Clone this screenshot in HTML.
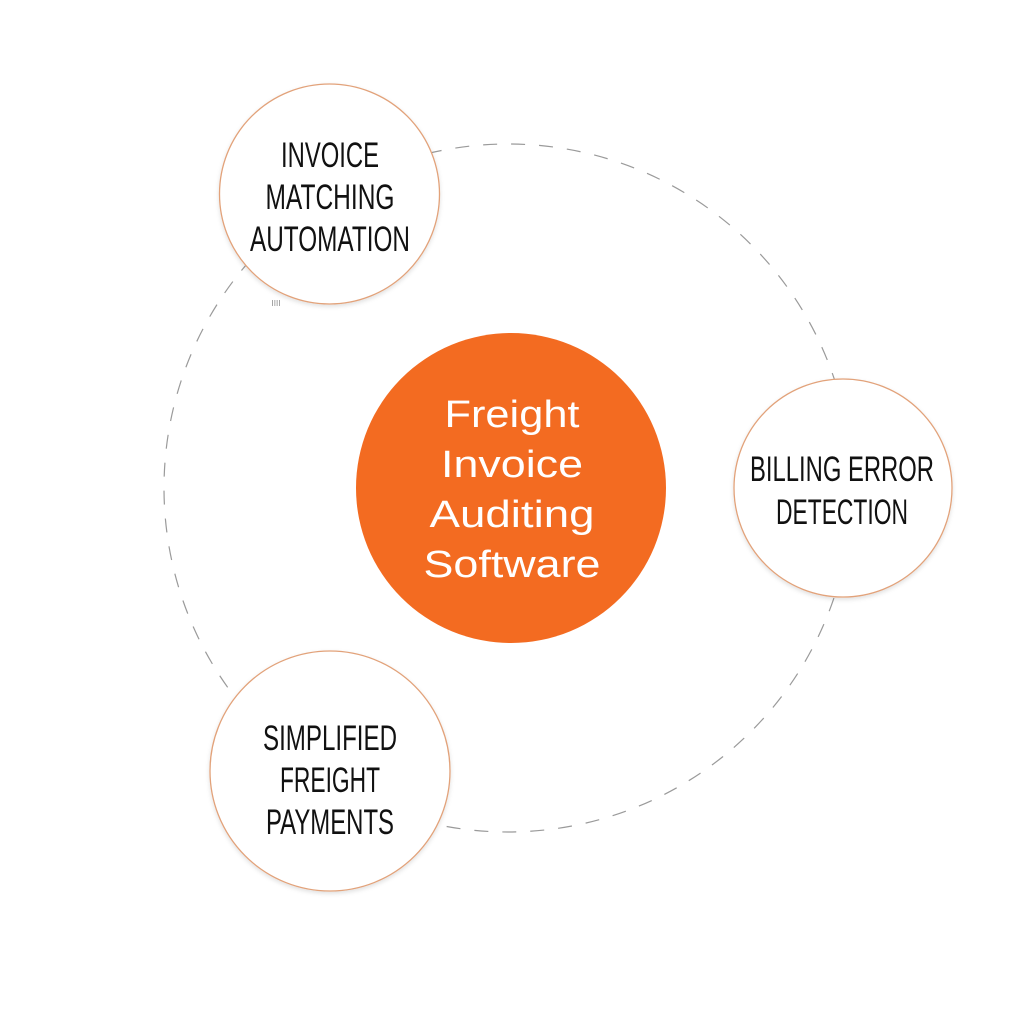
<!DOCTYPE html>
<html><head><style>html,body{margin:0;padding:0;background:#fff}svg{display:block}</style></head>
<body>
<svg width="1024" height="1024" viewBox="0 0 1024 1024" xmlns="http://www.w3.org/2000/svg">
<defs><filter id="sh" x="-20%" y="-20%" width="140%" height="140%"><feDropShadow dx="0" dy="2" stdDeviation="2" flood-color="#000" flood-opacity="0.12"/></filter></defs>
<rect width="1024" height="1024" fill="#fff"/>
<circle cx="508" cy="488" r="344" fill="none" stroke="#9a9a9a" stroke-width="1.2" stroke-dasharray="14 14"/>
<circle cx="511" cy="488" r="155" fill="#f36b21"/>
<g font-family="'Liberation Sans',sans-serif" font-size="38" fill="#fff" text-anchor="middle" font-weight="normal">
<text x="512" y="427" textLength="135" lengthAdjust="spacingAndGlyphs">Freight</text>
<text x="512" y="477" textLength="142" lengthAdjust="spacingAndGlyphs">Invoice</text>
<text x="512" y="527" textLength="165" lengthAdjust="spacingAndGlyphs">Auditing</text>
<text x="512" y="577" textLength="177" lengthAdjust="spacingAndGlyphs">Software</text>
</g>
<g fill="#fff" stroke="#e2a27a" stroke-width="1.3" filter="url(#sh)">
<circle cx="329.5" cy="194" r="110"/>
<circle cx="843" cy="488" r="109"/>
<circle cx="330" cy="771" r="120"/>
</g>
<g font-family="'Liberation Sans',sans-serif" font-size="35" fill="#111" text-anchor="middle">
<text x="330" y="167" textLength="98" lengthAdjust="spacingAndGlyphs">INVOICE</text>
<text x="330" y="209" textLength="129" lengthAdjust="spacingAndGlyphs">MATCHING</text>
<text x="330" y="251" textLength="160" lengthAdjust="spacingAndGlyphs">AUTOMATION</text>
<text x="842" y="481" textLength="184" lengthAdjust="spacingAndGlyphs">BILLING ERROR</text>
<text x="842" y="524" textLength="132" lengthAdjust="spacingAndGlyphs">DETECTION</text>
<text x="330" y="750" textLength="134" lengthAdjust="spacingAndGlyphs">SIMPLIFIED</text>
<text x="330" y="792" textLength="100" lengthAdjust="spacingAndGlyphs">FREIGHT</text>
<text x="330" y="834" textLength="128" lengthAdjust="spacingAndGlyphs">PAYMENTS</text>
</g>
<text x="276" y="306" font-family="'Liberation Sans',sans-serif" font-size="8" fill="#888" text-anchor="middle">IIII</text>
</svg>
</body></html>
